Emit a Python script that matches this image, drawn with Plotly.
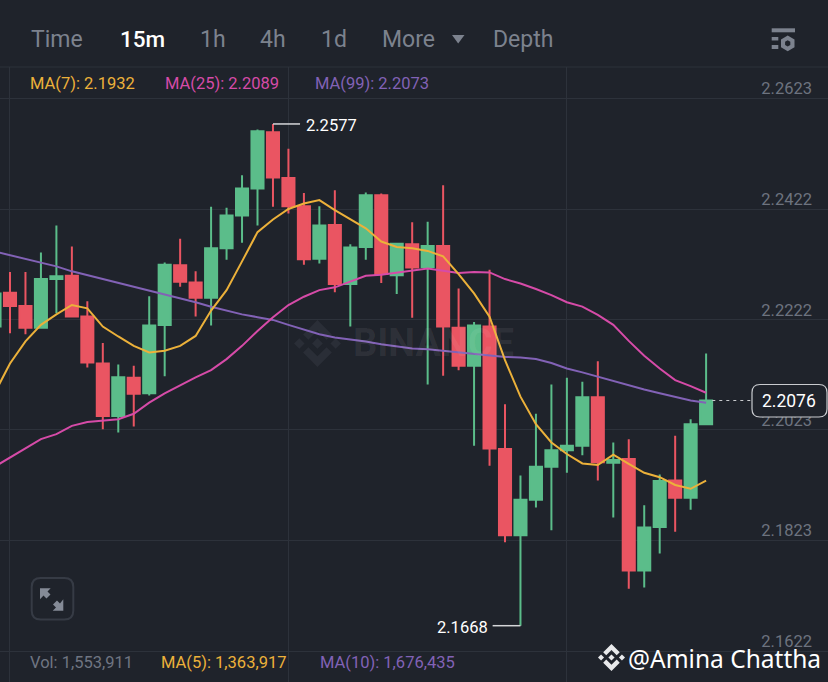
import plotly.graph_objects as go

W, H = 828, 682
BG = '#1f232b'
GRID = '#2d323b'
GREEN = '#5bbd8a'
RED = '#ea5562'
YELLOW = '#ecb13a'
PINK = '#d64ba8'
PURPLE = '#8262b6'
GREY = '#7c828e'

# 15m candles, oldest first
opens = [2.2210, 2.2271, 2.2247, 2.2208, 2.2296, 2.2302, 2.2228, 2.2143, 2.2048, 2.2117,
         2.2089, 2.2213, 2.2321, 2.2290, 2.2262, 2.2352, 2.2411, 2.2460, 2.2562, 2.2479,
         2.2428, 2.2333, 2.2394, 2.2287, 2.2354, 2.2448, 2.2303, 2.2359, 2.2318, 2.2356,
         2.2208, 2.2139, 2.2210, 2.1988, 2.1832, 2.1896, 2.1956, 2.1986, 2.1994, 2.2082,
         2.1963, 2.1970, 2.1768, 2.1847, 2.1931, 2.1900, 2.2033]
highs = [2.2270, 2.2309, 2.2309, 2.2344, 2.2393, 2.2355, 2.2256, 2.2180, 2.2141, 2.2139,
         2.2265, 2.2326, 2.2369, 2.2310, 2.2427, 2.2425, 2.2484, 2.2567, 2.2577, 2.2532,
         2.2452, 2.2428, 2.2457, 2.2359, 2.2453, 2.2451, 2.2362, 2.2399, 2.2400, 2.2466,
         2.2279, 2.2218, 2.2313, 2.2069, 2.1940, 2.2052, 2.2105, 2.2117, 2.2110, 2.2147,
         2.2000, 2.2006, 2.1886, 2.1942, 2.2012, 2.2042, 2.2161]
lows = [2.2192, 2.2198, 2.2196, 2.2208, 2.2234, 2.2228, 2.2136, 2.2024, 2.2018, 2.2029,
        2.2085, 2.2120, 2.2282, 2.2228, 2.2212, 2.2331, 2.2362, 2.2393, 2.2427, 2.2415,
        2.2322, 2.2324, 2.2272, 2.2210, 2.2331, 2.2289, 2.2269, 2.2226, 2.2105, 2.2121,
        2.2131, 2.1994, 2.1958, 2.1819, 2.1668, 2.1882, 2.1841, 2.1945, 2.1977, 2.1931,
        2.1864, 2.1735, 2.1737, 2.1799, 2.1838, 2.1878, 2.2033]
closes = [2.2270, 2.2247, 2.2208, 2.2296, 2.2301, 2.2228, 2.2145, 2.2048, 2.2118, 2.2088,
          2.2212, 2.2322, 2.2291, 2.2262, 2.2352, 2.2411, 2.2460, 2.2564, 2.2480, 2.2428,
          2.2332, 2.2393, 2.2287, 2.2353, 2.2448, 2.2305, 2.2360, 2.2317, 2.2356, 2.2210,
          2.2139, 2.2212, 2.1989, 2.1832, 2.1896, 2.1956, 2.1986, 2.1994, 2.2082, 2.1964,
          2.1968, 2.1768, 2.1846, 2.1930, 2.1900, 2.2033, 2.2076]

ma7 = [2.2089, 2.2143, 2.2183, 2.2213, 2.2232, 2.2249, 2.2243, 2.2210, 2.2192, 2.2175,
       2.2163, 2.2166, 2.2175, 2.2193, 2.2239, 2.2276, 2.2328, 2.2381, 2.2404, 2.2423,
       2.2433, 2.2439, 2.2421, 2.2404, 2.2388, 2.2364, 2.2354, 2.2352, 2.2347, 2.2337,
       2.2305, 2.2270, 2.2228, 2.2149, 2.2083, 2.2033, 2.2000, 2.1979, 2.1962, 2.1959,
       2.1978, 2.1961, 2.1945, 2.1937, 2.1923, 2.1916, 2.1931]
ma25 = [2.1956, 2.1973, 2.1989, 2.2006, 2.2015, 2.2030, 2.2037, 2.2040, 2.2042, 2.2052,
        2.2072, 2.2089, 2.2104, 2.2118, 2.2131, 2.2151, 2.2175, 2.2202, 2.2227, 2.2249,
        2.2264, 2.2276, 2.2281, 2.2291, 2.2302, 2.2304, 2.2308, 2.2312, 2.2315, 2.2311,
        2.2307, 2.2309, 2.2308, 2.2296, 2.2288, 2.2278, 2.2267, 2.2254, 2.2246, 2.2231,
        2.2213, 2.2184, 2.2157, 2.2134, 2.2113, 2.2102, 2.2090]
ma99 = [2.2346, 2.2339, 2.2332, 2.2325, 2.2319, 2.2310, 2.2303, 2.2296, 2.2290, 2.2283,
        2.2276, 2.2269, 2.2262, 2.2254, 2.2246, 2.2239, 2.2232, 2.2227, 2.2222, 2.2213,
        2.2204, 2.2196, 2.2190, 2.2187, 2.2183, 2.2178, 2.2174, 2.2170, 2.2169, 2.2166,
        2.2164, 2.2161, 2.2157, 2.2155, 2.2154, 2.2151, 2.2144, 2.2134, 2.2127, 2.2119,
        2.2111, 2.2104, 2.2096, 2.2089, 2.2082, 2.2076, 2.2072]

price_ticks = [2.2623, 2.2422, 2.2222, 2.2023, 2.1823, 2.1622]
time_grid = [1, 19, 37]
candle_x = list(range(len(opens)))

# logo polygons, 126.9 units wide
LOGO = [
    [(38.73, 53.2), (63.3, 28.64), (87.9, 53.24), (102.2, 38.94), (63.3, 0), (24.43, 38.9)],
    [(0, 63.31), (14.31, 49), (28.62, 63.31), (14.31, 77.62)],
    [(38.73, 73.42), (63.31, 98), (87.91, 73.4), (102.22, 87.69), (63.31, 126.6), (24.42, 87.74)],
    [(98.3, 63.31), (112.61, 49), (126.92, 63.31), (112.61, 77.62)],
    [(77.83, 63.3), (63.31, 48.78), (48.82, 63.27), (63.31, 77.75)],
]


def px(x):
    return x / W


def py(y):
    return 1 - y / H


def poly(points):
    return 'M' + ' L'.join(f'{px(x):.5f},{py(y):.5f}' for x, y in points) + ' Z'


def round_rect(x0, y0, x1, y1, r):
    pts = f'M{px(x0 + r):.5f},{py(y0):.5f} L{px(x1 - r):.5f},{py(y0):.5f} '
    pts += f'Q{px(x1):.5f},{py(y0):.5f} {px(x1):.5f},{py(y0 + r):.5f} L{px(x1):.5f},{py(y1 - r):.5f} '
    pts += f'Q{px(x1):.5f},{py(y1):.5f} {px(x1 - r):.5f},{py(y1):.5f} L{px(x0 + r):.5f},{py(y1):.5f} '
    pts += f'Q{px(x0):.5f},{py(y1):.5f} {px(x0):.5f},{py(y1 - r):.5f} L{px(x0):.5f},{py(y0 + r):.5f} '
    pts += f'Q{px(x0):.5f},{py(y0):.5f} {px(x0 + r):.5f},{py(y0):.5f} Z'
    return pts


def logo_shapes(x, y, size, color, layer):
    k = size / 126.9
    return [dict(type='path', xref='paper', yref='paper', layer=layer, line_width=0, fillcolor=color,
                 path=poly([(x + a * k, y + b * k) for a, b in part])) for part in LOGO]


def label(x, y, text, color=GREY, size=16, anchor='left', weight=400, family=None):
    font = dict(color=color, size=size, weight=weight)
    if family:
        font['family'] = family
    return dict(xref='paper', yref='paper', x=px(x), y=py(y), text=text, showarrow=False,
                xanchor=anchor, yanchor='middle', font=font, borderpad=0)


fig = go.Figure()

fig.add_trace(go.Candlestick(
    x=candle_x, open=opens, high=highs, low=lows, close=closes, whiskerwidth=0,
    increasing=dict(line=dict(color=GREEN, width=2), fillcolor=GREEN),
    decreasing=dict(line=dict(color=RED, width=2), fillcolor=RED),
))
for values, color in [(ma99, PURPLE), (ma25, PINK), (ma7, YELLOW)]:
    fig.add_trace(go.Scatter(x=candle_x, y=values, mode='lines', line=dict(color=color, width=2)))

shapes = []
shapes += logo_shapes(294, 320, 47, '#2a2e37', 'below')
shapes += logo_shapes(598, 644, 27, '#e8e9eb', 'above')

# separators
shapes.append(dict(type='line', xref='paper', yref='paper', x0=0, x1=1, y0=py(67), y1=py(67),
                   line=dict(color=GRID, width=1), layer='below'))

# high / low / last price leaders
shapes.append(dict(type='line', xref='x', yref='y', x0=18, x1=19.75, y0=highs[18], y1=highs[18],
                   line=dict(color='#d5d6d9', width=1.5)))
shapes.append(dict(type='line', xref='x', yref='y', x0=34, x1=32.2, y0=lows[34], y1=lows[34],
                   line=dict(color='#d5d6d9', width=1.5)))
shapes.append(dict(type='line', xref='x', yref='y', x0=46.4, x1=49, y0=closes[46], y1=closes[46],
                   line=dict(color='#c8cacd', width=1.2, dash='3px,4px')))
shapes.append(dict(type='path', xref='paper', yref='paper', path=round_rect(752, 384.5, 827, 417, 8),
                   fillcolor=BG, line=dict(color='#c9cbcf', width=1.2)))

# settings icon
shapes.append(dict(type='path', xref='paper', yref='paper', line_width=0, fillcolor=GREY,
                   path=poly([(771.7, 28.3), (795, 28.3), (795, 32.3), (771.7, 32.3)])))
shapes.append(dict(type='path', xref='paper', yref='paper', line_width=0, fillcolor=GREY,
                   path=poly([(771.7, 37), (778.3, 37), (778.3, 40.5), (771.7, 40.5)])))
shapes.append(dict(type='path', xref='paper', yref='paper', line_width=0, fillcolor=GREY,
                   path=poly([(771.7, 45), (778.3, 45), (778.3, 49), (771.7, 49)])))
shapes.append(dict(type='path', xref='paper', yref='paper', line_width=0, fillcolor=GREY,
                   path=poly([(787.7, 35.5), (794.5, 39.4), (794.5, 47.3), (787.7, 51.2), (781, 47.3), (781, 39.4)])))
shapes.append(dict(type='path', xref='paper', yref='paper', line_width=0, fillcolor=BG,
                   path=poly([(787.7, 40.3), (790.3, 41.8), (790.3, 44.9), (787.7, 46.4), (785.1, 44.9), (785.1, 41.8)])))

# More caret
shapes.append(dict(type='path', xref='paper', yref='paper', line_width=0, fillcolor=GREY,
                   path=poly([(452, 35), (464.5, 35), (458.2, 43.5)])))

# expand button
shapes.append(dict(type='path', xref='paper', yref='paper', path=round_rect(31.7, 578, 73.3, 619.5, 9),
                   line=dict(color='#363b45', width=2)))
shapes.append(dict(type='path', xref='paper', yref='paper', line_width=0, fillcolor='#858b97',
                   path=poly([(40, 588.3), (50.7, 588.3), (47.5, 591.5), (50.5, 594.5), (46.5, 598.5),
                              (43.5, 595.5), (40, 599.3)])))
shapes.append(dict(type='path', xref='paper', yref='paper', line_width=0, fillcolor='#858b97',
                   path=poly([(63.3, 610.7), (52.7, 610.7), (56, 607.5), (53, 604.5), (57, 600.5),
                              (60, 603.5), (63.3, 599.3)])))

annotations = [
    label(30, 39.5, 'Time', size=23),
    label(118.5, 39.5, '15m', color='#ffffff', size=22.5, weight=500),
    label(198.5, 39.5, '1h', size=23),
    label(258.5, 39.5, '4h', size=23),
    label(319.5, 39.5, '1d', size=23),
    label(380.5, 39.5, 'More', size=23),
    label(492, 39.5, 'Depth', size=23),
    label(28.5, 83, 'MA(7): 2.1932', color=YELLOW, size=16.5),
    label(164, 83, 'MA(25): 2.2089', color=PINK, size=16.5),
    label(313.5, 83, 'MA(99): 2.2073', color=PURPLE, size=16.5),
    label(28.5, 662, 'Vol: 1,553,911', color='#6f7582', size=16.5),
    label(159.5, 662, 'MA(5): 1,363,917', color=YELLOW, size=16.5),
    label(318.5, 662, 'MA(10): 1,676,435', color=PURPLE, size=16.5),
    label(304.5, 125, '2.2577', color='#ffffff', size=16.5),
    label(435.5, 627, '2.1668', color='#ffffff', size=16.5),
    label(789, 401, '2.2076', color='#ffffff', size=17.5, anchor='center'),
    label(352, 343, 'BINANCE', color='rgba(255,255,255,0.07)', size=38, weight=700),
    label(627, 658, '@Amina Chattha', color='#ffffff', size=24.5, family='Noto Sans'),
]

fig.update_layout(
    width=W, height=H, margin=dict(l=0, r=0, t=0, b=0),
    paper_bgcolor=BG, plot_bgcolor=BG, showlegend=False, hovermode=False,
    font=dict(family='Roboto, sans-serif'),
    boxgap=0.22, boxgroupgap=0,
    shapes=shapes, annotations=annotations,
    xaxis=dict(range=[0.354, 53.88], tickmode='array', tickvals=time_grid, showticklabels=False,
               showgrid=True, gridcolor=GRID, gridwidth=1, zeroline=False, ticks='',
               rangeslider=dict(visible=False)),
    yaxis=dict(range=[2.1566, 2.26802], domain=[0, 1 - 67 / H], side='right', tickmode='array',
               tickvals=price_ticks, ticktext=[f'{p:.4f}' for p in price_ticks],
               ticklabelposition='inside', ticklabelshift=-10, ticklabelstandoff=13,
               tickfont=dict(color='#6d737f', size=16.5),
               showgrid=True, gridcolor=GRID, gridwidth=1, zeroline=False, ticks=''),
)

fig.write_html("out.html", config=dict(displayModeBar=False),
               post_script="document.body.style.margin='0';document.body.style.background='%s';" % BG)
